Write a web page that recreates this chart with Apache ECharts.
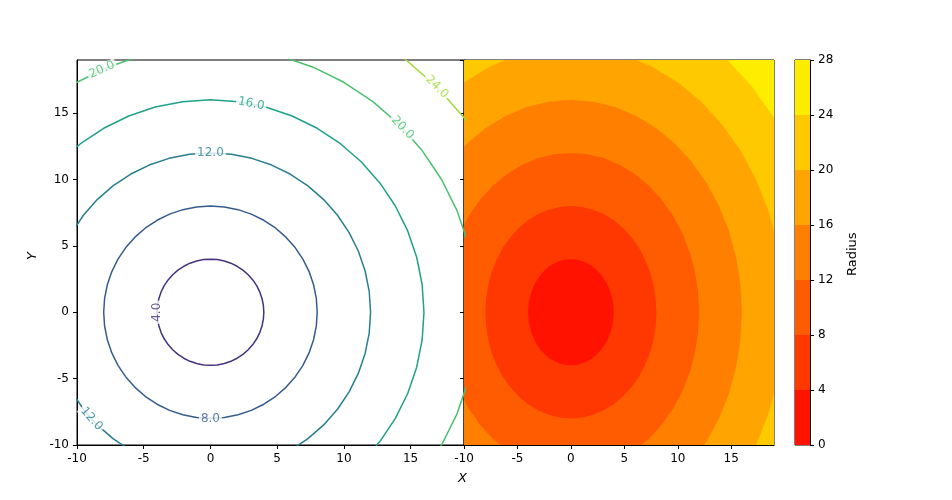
<!DOCTYPE html>
<html><head><meta charset="utf-8">
<script src="https://cdn.jsdelivr.net/npm/echarts@6/dist/echarts.min.js"></script>
<style>html,body{margin:0;padding:0;background:#fff}#c{width:952px;height:500px}</style>
</head><body><div id="c"></div>
<script>
const lineLevels = [4, 8, 12, 16, 20, 24];
const lineColors = ['#46327e', '#365c8d', '#277f8e', '#1fa187', '#4ac16d', '#a0da39'];
const fillLevels = [0, 4, 8, 12, 16, 20, 24, 28];
const fillColors = ['#ff1200', '#ff3700', '#ff5b00', '#ff8000', '#ffa400', '#ffc900', '#ffed00'];
// contour labels: [level, angle in degrees along the circle]
const contourLabels = [[4, 180], [8, 270], [12, 90], [12, 222], [16, 79], [20, 114], [20, 44], [20, 295], [24, 45]];
const axisTicks = [-10, -5, 0, 5, 10, 15];

const font = 'DejaVu Sans';
const N = 48;
function circle(r) { const p = []; for (let i = 0; i <= N; i++) { const a = 2 * Math.PI * i / N; p.push([r * Math.cos(a), r * Math.sin(a)]); } return p; }

const series = [];
lineLevels.forEach((lv, i) => series.push({
  type: 'line', xAxisIndex: 0, yAxisIndex: 0, data: circle(lv), symbol: 'none', clip: true,
  lineStyle: { color: lineColors[i], width: 1.5 }, z: 2, silent: true
}));
series.push({
  type: 'scatter', xAxisIndex: 0, yAxisIndex: 0, symbolSize: 0, z: 5, silent: true,
  data: contourLabels.map(([lv, ang]) => {
    const a = ang * Math.PI / 180;
    let rot = ang - 90; while (rot > 90) rot -= 180; while (rot < -90) rot += 180;
    return { value: [lv * Math.cos(a), lv * Math.sin(a)],
      label: { show: true, position: 'inside', formatter: lv.toFixed(1), rotate: rot,
        color: lineColors[lineLevels.indexOf(lv)], fontSize: 12, fontFamily: font,
        backgroundColor: '#fff', padding: [0, 2] } };
  })
});
// filled bands (largest first)
const bands = [];
for (let i = fillColors.length - 1; i >= 0; i--) bands.push([fillLevels[i + 1], i]);
series.push({
  type: 'custom', xAxisIndex: 1, yAxisIndex: 1, clip: true, silent: true, data: bands,
  renderItem: (params, api) => {
    const r = api.value(0), ci = api.value(1);
    return { type: 'polygon', shape: { points: circle(r).map(p => api.coord(p)) },
      style: { fill: fillColors[ci], stroke: null } };
  }
});
fillColors.forEach((c, i) => series.push({
  type: 'bar', xAxisIndex: 2, yAxisIndex: 2, stack: 'cb', data: [fillLevels[i + 1] - fillLevels[i]],
  itemStyle: { color: c }, barWidth: '100%', silent: true
}));

const axisCommon = {
  type: 'value', min: -10, max: 19, interval: 5,
  axisLine: { show: true, onZero: false, lineStyle: { color: '#000' } },
  axisTick: { show: true, length: 4, lineStyle: { color: '#000' } },
  axisLabel: { color: '#000', fontSize: 12, fontFamily: font, showMaxLabel: false },
  splitLine: { show: false }
};
const box = { show: true, borderColor: '#000', borderWidth: 1 };
const option = {
  animation: false,
  grid: [
    { left: 77, top: 60, width: 387, height: 385, ...box },
    { left: 464, top: 60, width: 310, height: 385, ...box },
    { left: 795, top: 60, width: 15, height: 385, ...box }
  ],
  xAxis: [
    { ...axisCommon, gridIndex: 0 },
    { ...axisCommon, gridIndex: 1 },
    { type: 'category', gridIndex: 2, data: [''], show: false }
  ],
  yAxis: [
    { ...axisCommon, gridIndex: 0 },
    { ...axisCommon, gridIndex: 1, axisLabel: { show: false } },
    { type: 'value', gridIndex: 2, position: 'right', min: 0, max: 28, interval: 4,
      axisLine: { show: true, lineStyle: { color: '#000' } },
      axisTick: { show: true, length: 4, lineStyle: { color: '#000' } },
      axisLabel: { color: '#000', fontSize: 12, fontFamily: font },
      splitLine: { show: false } }
  ],
  graphic: [
    { type: 'text', left: 458, top: 472, style: { text: 'X', font: 'italic 13px DejaVu Sans', fill: '#000' } },
    { type: 'text', x: 26, y: 260, rotation: Math.PI / 2, style: { text: 'Y', font: 'italic 13px DejaVu Sans', fill: '#000' } },
    { type: 'text', x: 846, y: 276, rotation: Math.PI / 2, style: { text: 'Radius', font: '13px DejaVu Sans', fill: '#000' } }
  ],
  series
};
echarts.init(document.getElementById('c')).setOption(option);
</script></body></html>
